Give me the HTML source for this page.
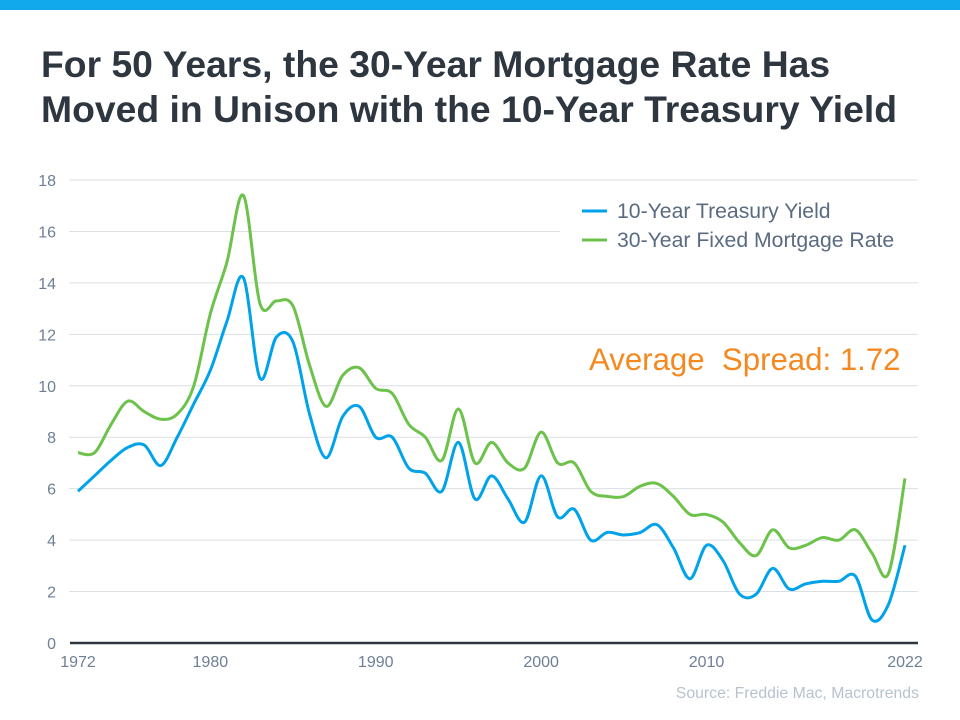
<!DOCTYPE html>
<html><head><meta charset="utf-8"><style>
body{margin:0;background:#fff;}
svg{display:block;font-family:"Liberation Sans",Arial,sans-serif;}
</style></head><body>
<svg id="s" width="960" height="720" viewBox="0 0 960 720">
<rect x="0" y="0" width="960" height="10" fill="#12a9ec"/>
<text x="41" y="77" font-size="37.3" font-weight="bold" fill="#2e3640">For 50 Years, the 30-Year Mortgage Rate Has</text>
<text x="41" y="122" font-size="37.3" font-weight="bold" fill="#2e3640">Moved in Unison with the 10-Year Treasury Yield</text>
<g id="grid" stroke="#dcdfe3" stroke-width="1"></g>
<g id="yl" font-size="16" fill="#6e7f95" text-anchor="end"></g>
<g id="xl" font-size="16" fill="#6e7f95" text-anchor="middle"></g>
<rect x="560" y="190" width="358" height="70" fill="#fff"/>
<line x1="70" y1="643" x2="918" y2="643" stroke="#2e3640" stroke-width="2.5"/>
<path id="t" fill="none" stroke="#00a3e9" stroke-width="3"/>
<path id="m" fill="none" stroke="#6cc24a" stroke-width="3"/>
<line x1="582" y1="211" x2="607" y2="211" stroke="#00a3e9" stroke-width="3"/>
<line x1="582" y1="240" x2="607" y2="240" stroke="#6cc24a" stroke-width="3"/>
<text x="617" y="218" font-size="21.2" fill="#5a6b80">10-Year Treasury Yield</text>
<text x="617" y="247" font-size="21.2" fill="#5a6b80">30-Year Fixed Mortgage Rate</text>
<text x="589" y="370" font-size="31.2" fill="#f5891f" xml:space="preserve">Average  Spread: 1.72</text>
<text x="919" y="698" font-size="15.8" fill="#b8c2cc" text-anchor="end">Source: Freddie Mac, Macrotrends</text>
</svg>
<script>
var NS="http://www.w3.org/2000/svg";
function X(y){return 78+(y-1972)*16.54;}
function Y(v){return 643-v*25.72;}
var g=document.getElementById("grid"),yl=document.getElementById("yl"),xl=document.getElementById("xl");
for(var v=0;v<=18;v+=2){
 if(v>0){var l=document.createElementNS(NS,"line");l.setAttribute("x1",69);l.setAttribute("x2",918);l.setAttribute("y1",Y(v));l.setAttribute("y2",Y(v));g.appendChild(l);}
 var t=document.createElementNS(NS,"text");t.setAttribute("x",56);t.setAttribute("y",Y(v)+6);t.textContent=v;yl.appendChild(t);
}
[1972,1980,1990,2000,2010,2022].forEach(function(y){var t=document.createElementNS(NS,"text");t.setAttribute("x",X(y));t.setAttribute("y",667);t.textContent=y;xl.appendChild(t);});
var T=[5.9,6.5,7.1,7.6,7.7,6.9,8.0,9.3,10.6,12.5,14.2,10.3,11.9,11.7,8.9,7.2,8.8,9.2,8.0,8.0,6.8,6.6,5.9,7.8,5.6,6.5,5.6,4.7,6.5,4.9,5.2,4.0,4.3,4.2,4.3,4.6,3.7,2.5,3.8,3.2,1.9,1.9,2.9,2.1,2.3,2.4,2.4,2.6,0.9,1.5,3.8];
var M=[7.4,7.4,8.5,9.4,9.0,8.7,8.9,10.0,12.8,14.8,17.4,13.2,13.3,13.1,10.8,9.2,10.4,10.7,9.9,9.7,8.5,8.0,7.1,9.1,7.0,7.8,7.0,6.8,8.2,7.0,7.0,5.9,5.7,5.7,6.1,6.2,5.7,5.0,5.0,4.7,3.9,3.4,4.4,3.7,3.8,4.1,4.0,4.4,3.5,2.7,6.4];
function path(d){var p=d.map(function(v,i){return [X(1972+i),Y(v)];});var s="M"+p[0][0]+","+p[0][1];
 for(var i=0;i<p.length-1;i++){var p0=p[Math.max(0,i-1)],p1=p[i],p2=p[i+1],p3=p[Math.min(p.length-1,i+2)];
 var c1=[p1[0]+(p2[0]-p0[0])/6,p1[1]+(p2[1]-p0[1])/6],c2=[p2[0]-(p3[0]-p1[0])/6,p2[1]-(p3[1]-p1[1])/6];
 s+=" C"+c1+" "+c2+" "+p2;}return s;}
document.getElementById("t").setAttribute("d",path(T));
document.getElementById("m").setAttribute("d",path(M));
</script>
</body></html>
